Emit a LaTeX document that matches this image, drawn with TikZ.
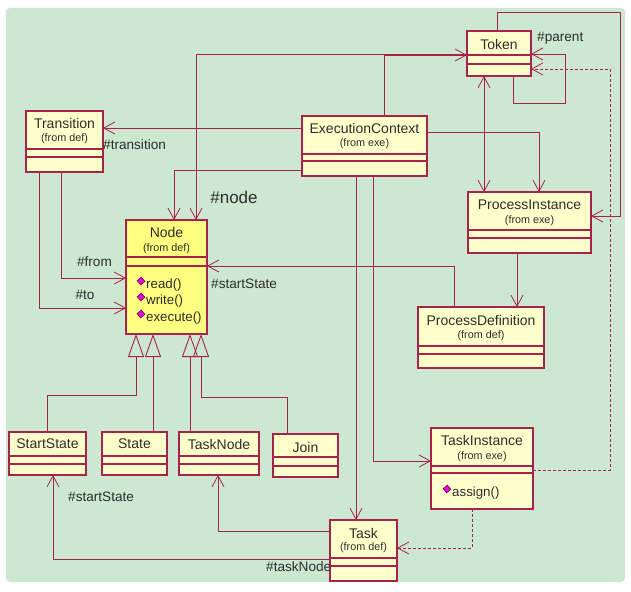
\documentclass[tikz,border=0pt]{standalone}
\usepackage{fontspec}
\setmainfont{Liberation Sans}
\usetikzlibrary{arrows.meta}
\definecolor{bg}{RGB}{204,232,208}
\definecolor{ln}{RGB}{168,35,75}
\definecolor{boxf}{RGB}{255,255,204}
\definecolor{nodef}{RGB}{255,255,128}
\definecolor{txt}{RGB}{45,45,45}
\definecolor{mag}{RGB}{235,0,235}
\tikzset{
  box/.style={draw=ln, line width=1.3pt, anchor=north west, inner sep=0pt, outer sep=0pt},
  divl/.style={draw=ln, line width=1.1pt},
  conn/.style={draw=ln, line width=0.9pt},
  arr/.style={-{Straight Barb[length=11pt,width=12pt,line width=0.8pt]}},
  arrb/.style={{Straight Barb[length=11pt,width=12pt,line width=0.8pt]}-{Straight Barb[length=11pt,width=12pt,line width=0.8pt]}},
  gen/.style={-{Triangle[open,length=23pt,width=16pt,line width=0.9pt]}},
  dep/.style={dash pattern=on 3pt off 2pt},
  title/.style={text=txt, font=\fontsize{14}{16}\selectfont, inner sep=0pt},
  sub/.style={text=txt, font=\fontsize{10.8}{12}\selectfont, inner sep=0pt},
  lbl/.style={text=txt, font=\fontsize{13.6}{15}\selectfont, inner sep=0pt},
  meth/.style={text=txt, font=\fontsize{13.3}{15}\selectfont, inner sep=0pt, anchor=west},
  icon/.style={draw=ln!60!black, line width=0.6pt, fill=mag, minimum size=5.5pt, inner sep=0pt, rotate=40},
}
\newcommand{\ucls}[8][boxf]{%
  \node[box, fill=#1, minimum width={(#5-#3)*1pt}, minimum height={(#6-#4)*1pt}] (#2) at (#3,#4) {};
  \draw[divl] (#2.west |- 0,#7) -- (#2.east |- 0,#7);
  \draw[divl] (#2.west |- 0,#8) -- (#2.east |- 0,#8);
}
\begin{document}
\begin{tikzpicture}[x=1pt,y=-1pt]
\fill[white] (0,0) rectangle (631,591);
\useasboundingbox (0,0) rectangle (631,591);
\fill[bg, rounded corners=4pt] (6,8) rectangle (625,582);

% classes
\ucls{Tok}{467}{31}{531}{76}{55}{64}
\ucls{Tr}{26}{111}{103}{172}{149}{157}
\ucls{EC}{302}{116}{427}{176}{154}{161}
\ucls{PI}{468}{192}{591}{253}{230}{238}
\ucls{PD}{418}{307}{544}{368}{346}{354}
\ucls[nodef]{Nd}{126}{220}{207}{334}{257}{266}
\ucls{SS}{9}{432}{86}{475}{456}{464}
\ucls{St}{102}{432}{167}{475}{456}{464}
\ucls{TN}{179}{432}{259}{475}{456}{464}
\ucls{Jn}{273}{434}{338}{477}{457}{466}
\ucls{TI}{431}{428}{533}{509}{466}{473}
\ucls{Tk}{330}{520}{397}{581}{558}{566}

% class texts
\node[title] (TokT) at (499,44) {Token};
\node[title] (TrT) at (64.5,123) {Transition};
\node[sub] (TrS) at (64.5,139) {(from def)};
\node[title] (ECT) at (364.5,128) {ExecutionContext};
\node[sub] (ECS) at (364.5,144) {(from exe)};
\node[title] (PIT) at (529.5,205) {ProcessInstance};
\node[sub] (PIS) at (529.5,221) {(from exe)};
\node[title] (PDT) at (481,320) {ProcessDefinition};
\node[sub] (PDS) at (481,336) {(from def)};
\node[title] (NdT) at (166.5,232) {Node};
\node[sub] (NdS) at (166.5,249) {(from def)};
\node[icon] (ic1) at (141,281) {};
\node[meth] (m1) at (146,285) {read()};
\node[icon] (ic2) at (141,297) {};
\node[meth] (m2) at (146,301) {write()};
\node[icon] (ic3) at (141,314) {};
\node[meth] (m3) at (146,318) {execute()};
\node[title] (SST) at (47.5,444) {StartState};
\node[title] (StT) at (134.5,444) {State};
\node[title] (TNT) at (219,444) {TaskNode};
\node[title] (JnT) at (305.5,447) {Join};
\node[title] (TIT) at (482,440) {TaskInstance};
\node[sub] (TIS) at (482,457) {(from exe)};
\node[icon] (ic4) at (447,489) {};
\node[meth] (m4) at (452,493) {assign()};
\node[title] (TkT) at (363.5,533) {Task};
\node[sub] (TkS) at (363.5,548) {(from def)};

% connectors
\draw[conn,arr] (EC.west |- 0,128) -- (Tr.east |- 0,128);
\node[lbl, anchor=west] (l1) at (103,145) {\#transition};
\draw[conn,arr] (Tok.west |- 0,54) -| (Nd.north -| 196,0);
\draw[conn,arr] (EC.north -| 384,0) |- (Tok.west |- 0,55);
\draw[conn,arr] (EC.west |- 0,170) -| (Nd.north -| 174,0);
\node[text=txt, font=\fontsize{17}{19}\selectfont, inner sep=0pt] (l2) at (234,197) {\#node};
\draw[conn,arr] (Tr.south -| 61,0) |- (Nd.west |- 0,278);
\node[lbl] (l3) at (94.5,262) {\#from};
\draw[conn,arr] (Tr.south -| 39,0) |- (Nd.west |- 0,308);
\node[lbl] (l4) at (85,295) {\#to};
\draw[conn,arr] (PD.north -| 454,0) |- (Nd.east |- 0,266);
\node[lbl, anchor=west] (l5) at (211,284) {\#startState};
\draw[conn,arr] (PI.south -| 517,0) -- (PD.north -| 517,0);
\draw[conn,arr] (EC.east |- 0,132) -| (PI.north -| 539,0);
\draw[conn,arrb] (Tok.south -| 484,0) -- (PI.north -| 484,0);
\draw[conn,arr] (Tok.south -| 513,0) |- (565,103) |- (Tok.east |- 0,54);
\node[lbl, anchor=west] (l6) at (537,38) {\#parent};
\draw[conn,arr] (Tok.north -| 497,0) |- (620,12) |- (PI.east |- 0,216);
\draw[conn,dep,arr] (TI.east |- 0,470) -| (610,69) -- (Tok.east |- 0,69);
\draw[conn,dep,arr] (TI.south -| 472,0) |- (Tk.east |- 0,548);
\draw[conn,arr] (EC.south -| 373,0) |- (TI.west |- 0,461);
\draw[conn,arr] (EC.south -| 356,0) -- (Tk.north -| 356,0);
\draw[conn,arr] (Tk.west |- 0,531) -| (TN.south -| 218,0);
\draw[conn,arr] (Tk.west |- 0,559) -| (SS.south -| 53,0);
\node[lbl, anchor=west] (l7) at (68,497) {\#startState};
\node[lbl, anchor=west] (l8) at (266,567) {\#taskNode};

% generalizations
\draw[conn,gen] (SS.north -| 47,0) |- (136,395) -- (Nd.south -| 136,0);
\draw[conn,gen] (St.north -| 153,0) -- (Nd.south -| 153,0);
\draw[conn,gen] (TN.north -| 190,0) -- (Nd.south -| 190,0);
\draw[conn,gen] (Jn.north -| 287,0) |- (201,397) -- (Nd.south -| 201,0);
\end{tikzpicture}
\end{document}
